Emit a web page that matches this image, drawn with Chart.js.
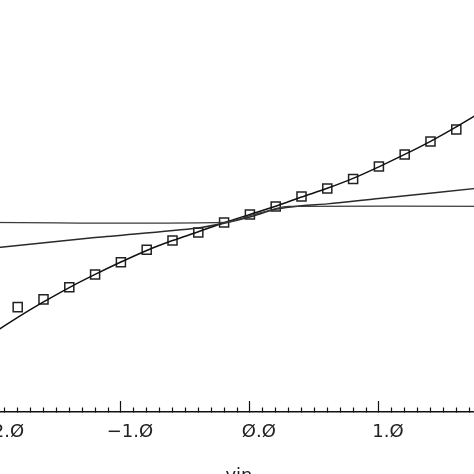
<!DOCTYPE html>
<html>
<head>
<meta charset="utf-8">
<script src="https://cdn.jsdelivr.net/npm/chart.js@4"></script>
<style>
  html, body { margin: 0; padding: 0; background: #fff; overflow: hidden; width: 474px; height: 474px; }
  #wrap { position: absolute; left: -43px; top: -7px; width: 564px; height: 492px; }
</style>
</head>
<body>
<div id="wrap"><canvas id="grafico"></canvas></div>
<script>
// Puntos medidos (cuadrados)
const vinSquares = [-1.8, -1.6, -1.4, -1.2, -1.0, -0.8, -0.6, -0.4, -0.2, 0.0, 0.2, 0.4, 0.6, 0.8, 1.0, 1.2, 1.4, 1.6];
const voutSquares = [-0.72, -0.66, -0.566, -0.466, -0.372, -0.275, -0.202, -0.14, -0.062, 0.0, 0.062, 0.14, 0.202, 0.275, 0.372, 0.466, 0.566, 0.66];

// Curva ajustada (la más empinada)
const vinCurve = [-2.1, -2.0, -1.8, -1.6, -1.4, -1.2, -1.0, -0.8, -0.6, -0.4, -0.2, 0.0, 0.2, 0.4, 0.6, 0.8, 1.0, 1.2, 1.4, 1.6, 1.8, 1.9];
const voutCurve = [-1.0, -0.93, -0.80, -0.68, -0.568, -0.466, -0.37, -0.28, -0.203, -0.135, -0.064, 0.0, 0.064, 0.135, 0.203, 0.28, 0.37, 0.466, 0.568, 0.68, 0.80, 0.865];

// Recta de pendiente media
const vinMid = [-2.1, -1.2, -0.4, -0.2, 0.0, 0.2, 0.4, 0.6, 1.0, 1.9];
const voutMid = [-0.272, -0.18, -0.105, -0.068, -0.02, 0.04, 0.068, 0.082, 0.124, 0.218];

// Recta casi horizontal
const vinFlat = [-2.1, -0.2, 0.0, 0.2, 0.3, 1.9];
const voutFlat = [-0.062, -0.062, -0.01, 0.045, 0.062, 0.062];

const xTicks = [-2, -1, 0, 1];

function pares(xs, ys) {
    return xs.map((x, i) => ({ x: x, y: ys[i] }));
}

function esMayor(v) {
    return xTicks.some(t => Math.abs(t - v) < 1e-6);
}

function etiqueta(v) {
    const s = Math.abs(v).toFixed(1).replace(/0/g, "Ø");
    return v < -1e-6 ? "\u2212" + s : s;
}

const ctx = document.getElementById("grafico").getContext("2d");

window.miGrafico = new Chart(ctx, {
    type: 'line',
    data: {
        datasets: [
            {
                data: pares(vinFlat, voutFlat),
                borderColor: '#3a3a3a',
                borderWidth: 1.3,
                pointRadius: 0,
                tension: 0.3
            },
            {
                data: pares(vinMid, voutMid),
                borderColor: '#2a2a2a',
                borderWidth: 1.5,
                pointRadius: 0,
                tension: 0.3
            },
            {
                data: pares(vinCurve, voutCurve),
                borderColor: '#111',
                borderWidth: 1.5,
                pointRadius: 0,
                cubicInterpolationMode: 'monotone'
            },
            {
                data: pares(vinSquares, voutSquares),
                showLine: false,
                pointStyle: 'rect',
                pointRadius: 6.4,
                pointBorderWidth: 1.5,
                pointBorderColor: '#222',
                pointBackgroundColor: 'rgba(0,0,0,0)'
            }
        ]
    },
    options: {
        responsive: true,
        maintainAspectRatio: false,
        animation: false,
        layout: { padding: 0 },
        plugins: {
            legend: { display: false },
            tooltip: { enabled: false }
        },
        scales: {
            x: {
                type: 'linear',
                min: -2.1,
                max: 1.931,
                border: { display: true, color: '#111', width: 1.5 },
                grid: {
                    drawOnChartArea: false,
                    drawTicks: true,
                    tickLength: -11,
                    tickColor: '#111',
                    tickWidth: 1.2,
                    tickBorderDash: c => (c.tick && esMayor(c.tick.value)) ? [] : [5, 40]
                },
                ticks: {
                    stepSize: 0.1,
                    autoSkip: false,
                    maxRotation: 0,
                    minRotation: 0,
                    padding: 22,
                    labelOffset: 9,
                    color: '#222',
                    font: { family: 'DejaVu Sans', size: 18, lineHeight: 1 },
                    callback: v => esMayor(v) ? etiqueta(v) : ''
                },
                title: {
                    display: true,
                    text: 'vin',
                    color: '#222',
                    padding: { top: 4, bottom: 0 },
                    font: { family: 'DejaVu Sans', size: 18, lineHeight: 1 }
                }
            },
            y: {
                display: false,
                min: -1.535,
                max: 1.659
            }
        }
    }
});
</script>
</body>
</html>
